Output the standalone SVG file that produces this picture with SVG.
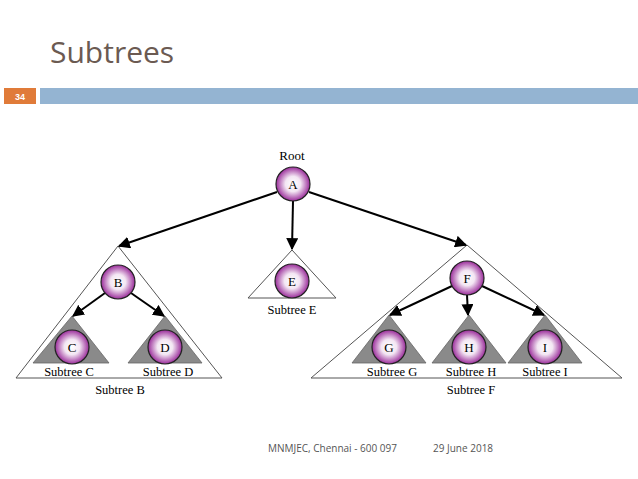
<svg xmlns="http://www.w3.org/2000/svg" width="638" height="479" viewBox="0 0 638 479">
<defs>
<radialGradient id="g" cx="50%" cy="50%" r="50%"><stop offset="0" stop-color="#ffffff"/><stop offset="0.45" stop-color="#f3e6f3"/><stop offset="1" stop-color="#9a2c9a"/></radialGradient>
<marker id="ar" viewBox="0 0 10 10" refX="9" refY="5" markerWidth="6" markerHeight="6" orient="auto"><path d="M0,0 L10,5 L0,10 z" fill="#000"/></marker>
<style>
.big{fill:#fff;stroke:#555;stroke-width:1}
.sm{fill:#8a8a8a;stroke:#666;stroke-width:0.8}
.n{fill:url(#g);stroke:#222;stroke-width:1.2}
.t{font-family:"Liberation Serif",serif;font-size:13px;text-anchor:middle;fill:#000}
.l{font-family:"Liberation Serif",serif;font-size:12.5px;text-anchor:middle;fill:#000}
.c{stroke:#000;stroke-width:2;fill:none;marker-end:url(#ar)}
</style>
</defs>
<rect width="638" height="479" fill="#fff"/>
<text x="50" y="63" font-family="'Open Sans',sans-serif" font-size="30" fill="#6b5a52">Subtrees</text>
<rect x="4" y="88" width="32" height="16" fill="#e07b39"/>
<text x="20" y="100" font-family="'Liberation Sans',sans-serif" font-size="9" font-weight="bold" fill="#fff" text-anchor="middle">34</text>
<rect x="40" y="88" width="598" height="16" fill="#94b4d2"/>
<text x="268" y="452" font-family="'Open Sans',sans-serif" font-size="10" fill="#555">MNMJEC, Chennai - 600 097</text>
<text x="433" y="452" font-family="'Open Sans',sans-serif" font-size="10" fill="#555">29 June 2018</text>

<g id="subtreeB"><polygon class="big" points="118,246 16,378 222,378"/><text class="l" x="120" y="394">Subtree B</text></g>
<g id="subtreeE"><polygon class="big" points="292,250 248,298 336,298"/><text class="l" x="292" y="314">Subtree E</text></g>
<g id="subtreeF"><polygon class="big" points="467,245 311,378 622,378"/><text class="l" x="471" y="394">Subtree F</text></g>
<g id="subtreeC"><polygon class="sm" points="72,316 33,363 109,363"/><text class="l" x="69" y="376">Subtree C</text></g>
<g id="subtreeD"><polygon class="sm" points="165,316 128,363 202,363"/><text class="l" x="168" y="376">Subtree D</text></g>
<g id="subtreeG"><polygon class="sm" points="389,315 352,363 426,363"/><text class="l" x="392" y="376">Subtree G</text></g>
<g id="subtreeH"><polygon class="sm" points="469,315 432,363 506,363"/><text class="l" x="471" y="376">Subtree H</text></g>
<g id="subtreeI"><polygon class="sm" points="545,315 508,363 582,363"/><text class="l" x="545" y="376">Subtree I</text></g>

<g id="connectors">
<line class="c" x1="277" y1="192" x2="119" y2="246"/>
<line class="c" x1="293" y1="201" x2="292" y2="249"/>
<line class="c" x1="309" y1="192" x2="466" y2="245"/>
<line class="c" x1="105" y1="293" x2="73" y2="316"/>
<line class="c" x1="131" y1="293" x2="164" y2="316"/>
<line class="c" x1="452" y1="286" x2="390" y2="315"/>
<line class="c" x1="467" y1="295" x2="468" y2="315"/>
<line class="c" x1="482" y1="286" x2="544" y2="315"/>
</g>

<g id="A"><text class="t" x="292" y="160">Root</text><circle class="n" cx="293" cy="184" r="17"/><text class="t" x="293" y="189">A</text></g>
<g id="B"><circle class="n" cx="118" cy="282" r="17"/><text class="t" x="118" y="287">B</text></g>
<g id="E"><circle class="n" cx="292" cy="281" r="17"/><text class="t" x="292" y="286">E</text></g>
<g id="F"><circle class="n" cx="467" cy="278" r="17"/><text class="t" x="467" y="283">F</text></g>
<g id="C"><circle class="n" cx="72" cy="347" r="17"/><text class="t" x="72" y="352">C</text></g>
<g id="D"><circle class="n" cx="165" cy="347" r="17"/><text class="t" x="165" y="352">D</text></g>
<g id="G"><circle class="n" cx="389" cy="347" r="17"/><text class="t" x="389" y="352">G</text></g>
<g id="H"><circle class="n" cx="469" cy="347" r="17"/><text class="t" x="469" y="352">H</text></g>
<g id="I"><circle class="n" cx="545" cy="347" r="17"/><text class="t" x="545" y="352">I</text></g>
</svg>
